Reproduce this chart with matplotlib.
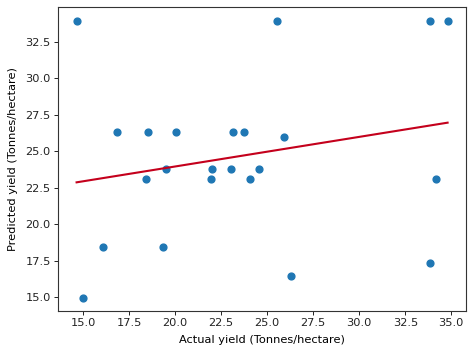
import matplotlib
matplotlib.use("Agg")
import matplotlib.pyplot as plt
import numpy as np

actual = [14.64, 14.98, 16.05, 16.83, 18.41, 18.53, 19.33, 19.51, 20.02, 21.92, 22.01,
          23.04, 23.14, 23.75, 24.04, 24.53, 25.51, 25.93, 26.27, 33.83, 33.83, 34.19, 34.80]
predicted = [33.90, 14.95, 18.45, 26.31, 23.07, 26.31, 18.45, 23.77, 26.31, 23.07, 23.77,
             23.77, 26.31, 26.31, 23.07, 23.77, 33.90, 25.95, 16.44, 33.90, 17.33, 23.07, 33.90]
fit_slope = 0.2029
fit_intercept = 19.89

fig = plt.figure(figsize=(4.74, 3.55), dpi=100)
ax = fig.add_axes([58/474, 1 - 311/355, (466 - 58)/474, (311 - 7.3)/355])
ax.scatter(actual, predicted, s=24, color="#1f77b4", zorder=2)
x = np.array(actual)
ax.plot(x, fit_slope * x + fit_intercept, color="#c4001c", linewidth=1.5, zorder=3)
ax.set_xlabel("Actual yield (Tonnes/hectare)", fontsize=8.2, labelpad=4.5)
ax.set_ylabel("Predicted yield (Tonnes/hectare)", fontsize=8.2, labelpad=5)
ax.set_xticks([15.0, 17.5, 20.0, 22.5, 25.0, 27.5, 30.0, 32.5, 35.0])
ax.set_yticks([15.0, 17.5, 20.0, 22.5, 25.0, 27.5, 30.0, 32.5])
ax.tick_params(labelsize=8.2, width=0.7, length=2.8, pad=2.5, colors="#222222")
for sp in ax.spines.values():
    sp.set_linewidth(0.8)
    sp.set_color("#333333")
ax.set_xlim(13.63, 35.8)
ax.set_ylim(14.04, 34.86)
fig.savefig("out.png", dpi=100)
